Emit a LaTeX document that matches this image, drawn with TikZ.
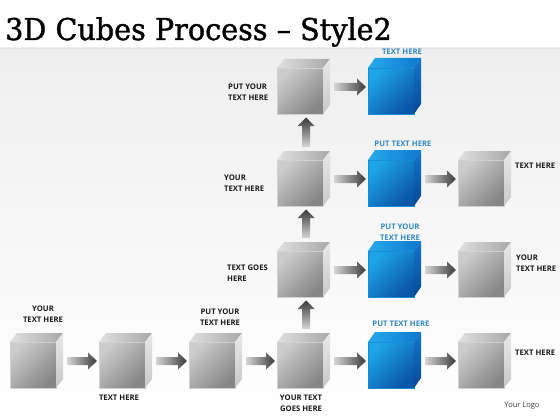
\documentclass[tikz,border=0pt]{standalone}
\usepackage{fontspec}
\usepackage{graphicx}
\usetikzlibrary{calc}
\newfontfamily\lblfont{Open Sans}
\newfontfamily\titlefont[FakeBold=1.3]{DejaVu Serif}
\definecolor{gfA}{RGB}{204,204,204}
\definecolor{gfB}{RGB}{134,134,134}
\definecolor{gtA}{RGB}{224,224,224}
\definecolor{gtB}{RGB}{168,168,168}
\definecolor{gsA}{RGB}{232,232,232}
\definecolor{gsB}{RGB}{200,200,200}
\definecolor{bfA}{RGB}{30,165,232}
\definecolor{bfB}{RGB}{10,86,168}
\definecolor{btA}{RGB}{40,170,236}
\definecolor{btB}{RGB}{14,120,206}
\definecolor{bsA}{RGB}{20,118,204}
\definecolor{bsB}{RGB}{8,72,150}
\definecolor{arrL}{RGB}{214,214,214}
\definecolor{arrD}{RGB}{58,58,58}
\definecolor{lblblue}{RGB}{52,138,192}
\definecolor{lbltext}{RGB}{25,25,25}
\tikzset{
  frontbase/.style={minimum width=46pt, minimum height=46pt, inner sep=0pt, outer sep=0pt},
  gfront/.style={frontbase, draw=gray!35, line width=0.8pt, top color=gfA, bottom color=gfB, shading angle=45},
  gtop/.style={left color=gtA, right color=gtB},
  gside/.style={top color=gsA, bottom color=gsB},
  bfront/.style={frontbase, draw=bfA!70!bfB, line width=0.5pt, top color=bfA, bottom color=bfB, shading angle=45},
  btop/.style={left color=btA, right color=btB},
  bside/.style={top color=bsA, bottom color=bsB},
  arrh/.style={left color=arrL, right color=arrD},
  arrv/.style={top color=arrD, bottom color=arrL},
  lbl/.style={font=\lblfont\bfseries\fontsize{7.7}{11}\selectfont, text=lbltext, inner sep=0pt},
  lblb/.style={lbl, text=lblblue},
}
\newcommand\gcube[3]{%
  \node[gfront] (#1) at (#2,#3) {};
  \shade[gtop] (#1.north west) -- ++(7,-9) -- ($(#1.north east)+(7,-9)$) -- (#1.north east) -- cycle;
  \shade[gside] (#1.north east) -- ++(7,-9) -- ($(#1.south east)+(7,-9)$) -- (#1.south east) -- cycle;
}
\newcommand\bcube[3]{%
  \node[bfront] (#1) at (#2,#3) {};
  \shade[btop] (#1.north west) -- ++(7,-10) -- ($(#1.north east)+(7,-10)$) -- (#1.north east) -- cycle;
  \shade[bside] (#1.north east) -- ++(7,-10) -- ($(#1.south east)+(7,-10)$) -- (#1.south east) -- cycle;
}
\newcommand\harr[2]{%
  \shade[arrh] ($(#1.east)+(11,-8)$) -- ($(#2.west)+(-11,-8)$) -- ($(#2.west)+(-11,-12.5)$)
    -- ($(#2.west)+(-2,-4)$) -- ($(#2.west)+(-11,4.5)$) -- ($(#2.west)+(-11,0)$)
    -- ($(#1.east)+(11,0)$) -- cycle;
}
\newcommand\varr[2]{%
  \shade[arrv] ($(#1.north)+(2,-13)$) -- ($(#2.south)+(2,12)$) -- ($(#2.south)+(-2.5,12)$)
    -- ($(#2.south)+(6,3.5)$) -- ($(#2.south)+(14.5,12)$) -- ($(#2.south)+(10,12)$)
    -- ($(#1.north)+(10,-13)$) -- cycle;
}
\begin{document}
\begin{tikzpicture}[x=1pt,y=-1pt]
\useasboundingbox (0,0) rectangle (560,420);
\fill[white] (0,0) rectangle (560,420);
\shade[top color=gray!13, bottom color=white] (0,48) rectangle (560,420);
\draw[gray!20, line width=0.6pt] (0,48) -- (560,48);
\node[anchor=base west, inner sep=0pt] (title) at (5,40)
  {\titlefont\fontsize{30}{30}\selectfont\scalebox{0.955}[1]{3D Cubes Process – Style2}};
% bottom row
\gcube{b1}{33}{365}
\gcube{b2}{122}{365}
\gcube{b3}{212}{365}
\gcube{b4}{300}{365}
\bcube{b5}{391}{365}
\gcube{b6}{481}{365}
% row 2
\gcube{rtc}{300}{274}
\bcube{rtb}{391}{274}
\gcube{rtg}{481}{274}
% row 1
\gcube{roc}{300}{183}
\bcube{rob}{391}{183}
\gcube{rog}{481}{183}
% top row
\gcube{rzc}{300}{91}
\bcube{rzb}{391}{91}
% connectors
\harr{b1}{b2}
\harr{b2}{b3}
\harr{b3}{b4}
\harr{b4}{b5}
\harr{b5}{b6}
\harr{rtc}{rtb}
\harr{rtb}{rtg}
\harr{roc}{rob}
\harr{rob}{rog}
\harr{rzc}{rzb}
\varr{b4}{rtc}
\varr{rtc}{roc}
\varr{roc}{rzc}
% labels
\node[lblb] (l1) at (402,52) {TEXT HERE};
\node[lbl, anchor=west, align=left] (l2) at (228,92) {PUT YOUR\\TEXT HERE};
\node[lblb] (l3) at (403,144) {PUT TEXT HERE};
\node[lbl, anchor=west, align=left] (l4) at (224,183) {YOUR\\TEXT HERE};
\node[lbl, anchor=west] (l5) at (515,166) {TEXT HERE};
\node[lblb, align=center] (l6) at (400,232) {PUT YOUR\\TEXT HERE};
\node[lbl, anchor=west, align=left] (l7) at (227,273) {TEXT GOES\\HERE};
\node[lbl, anchor=west, align=left] (l8) at (516,263) {YOUR\\TEXT HERE};
\node[lbl, align=center] (l9) at (43,314) {YOUR\\TEXT HERE};
\node[lbl, align=center] (l10) at (220,317) {PUT YOUR\\TEXT HERE};
\node[lblb] (l11) at (401,324) {PUT TEXT HERE};
\node[lbl, anchor=west] (l12) at (515,353) {TEXT HERE};
\node[lbl] (l13) at (119,398) {TEXT HERE};
\node[lbl, align=center] (l14) at (301,403) {YOUR TEXT\\GOES HERE};
\node[font=\lblfont\fontsize{7.5}{9}\selectfont, text=black!75, inner sep=0pt] (logo) at (522,406) {Your Logo};
\end{tikzpicture}
\end{document}
